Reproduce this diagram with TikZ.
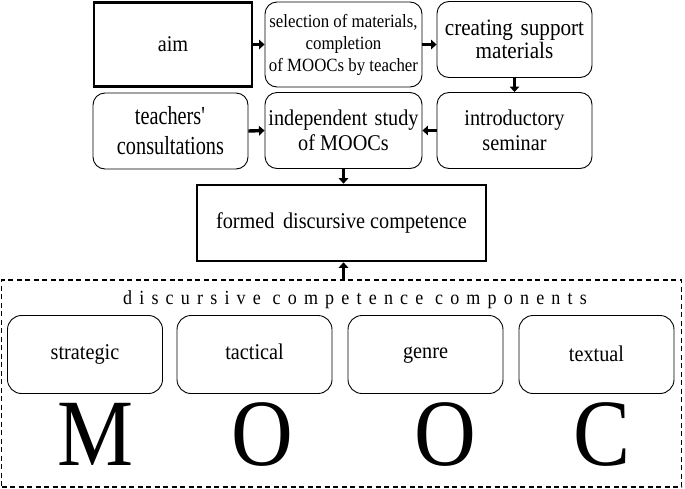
\documentclass[tikz,border=0pt]{standalone}
\usepackage{fontspec}
\setmainfont{Liberation Serif}[FakeStretch=0.9]
\newfontfamily\condfont{Liberation Serif}[FakeStretch=0.78]
\newfontfamily\spacedfont{Liberation Serif}[LetterSpace=36,FakeStretch=0.9]
\usetikzlibrary{arrows.meta}
\begin{document}
\begin{tikzpicture}[x=1pt,y=-1pt,
  rbox/.style={draw,rounded corners=12pt,line width=0.9pt,align=center,inner sep=0pt,
    font=\fontsize{22.5}{25}\selectfont},
  tbox/.style={draw,line width=2.6pt,align=center,inner sep=0pt,
    font=\fontsize{22.5}{25}\selectfont},
  comp/.style={draw,rounded corners=14pt,line width=0.9pt,minimum width=155pt,minimum height=78pt,
    inner sep=0pt,text height=15pt,text depth=5pt,font=\fontsize{22.5}{24}\selectfont},
  big/.style={font=\fontsize{95}{95}\selectfont,inner sep=0pt},
  arr/.style={line width=3.4pt,-{Triangle[length=5.5pt,width=9.5pt]}}]
\useasboundingbox (0,0) rectangle (685,488);
% top row
\node[tbox,minimum width=158pt,minimum height=84pt] (aim) at (173,44.5) {aim};
\node[rbox,minimum width=157pt,minimum height=85pt,font=\fontsize{18.7}{22}\selectfont] (sel) at (343.5,44.5)
  {selection of materials,\\completion\\of MOOCs by teacher};
\node[rbox,minimum width=155pt,minimum height=76pt,font=\fontsize{23.5}{23}\selectfont] (create) at (514.5,39.5)
  {creating\hspace{0.1em} support\\materials};
% second row
\node[rbox,minimum width=155pt,minimum height=76pt] (intro) at (514.5,130.5) {introductory\\seminar};
\node[rbox,minimum width=157pt,minimum height=76pt] (indep) at (343.5,130.5) {independent\hspace{0.1em} study\\of MOOCs};
\node[rbox,minimum width=155pt,minimum height=76pt,font=\condfont\fontsize{26}{30}\selectfont] (teach) at (170.5,131)
  {teachers\textquotesingle\\consultations};
% formed
\node[tbox,minimum width=289pt,minimum height=76pt] (formed) at (341.5,223)
  {formed\hspace{0.15em} discursive competence};
% dashed frame
\node[draw,dashed,dash pattern=on 5pt off 3.5pt,line width=1.3pt,minimum width=680pt,minimum height=207pt,inner sep=0pt]
  (frame) at (341.5,383.5) {};
\node[font=\spacedfont\fontsize{20}{22}\selectfont,inner sep=0pt] (title) at (355,300) {discursive competence components};
% components
\node[comp] (strat) at (85,354.5) {strategic};
\node[comp] (tact) at (254.5,354.5) {tactical};
\node[comp] (genre) at (425.5,354.5) {\raisebox{1.5pt}{genre}};
\node[comp] (text) at (596.5,354.5) {\raisebox{-2pt}{textual}};
% big letters
\node[big,anchor=base] (m) at (96,465) {M};
\node[big,anchor=base] (o1) at (262,465) {O};
\node[big,anchor=base] (o2) at (445,465) {O};
\node[big,anchor=base] (c) at (602,465) {C};
% arrows
\draw[arr] (aim.east) -- (sel.west);
\draw[arr] (sel.east) -- (sel.east -| create.west);
\draw[arr] (create.south) -- (intro.north);
\draw[arr] (intro.west) -- (indep.east);
\draw[arr] (teach.east) -- (indep.west);
\draw[arr] (indep.south) -- (indep.south |- formed.north);
\draw[arr] (frame.north -| indep.south) -- (indep.south |- formed.south);
\end{tikzpicture}
\end{document}
